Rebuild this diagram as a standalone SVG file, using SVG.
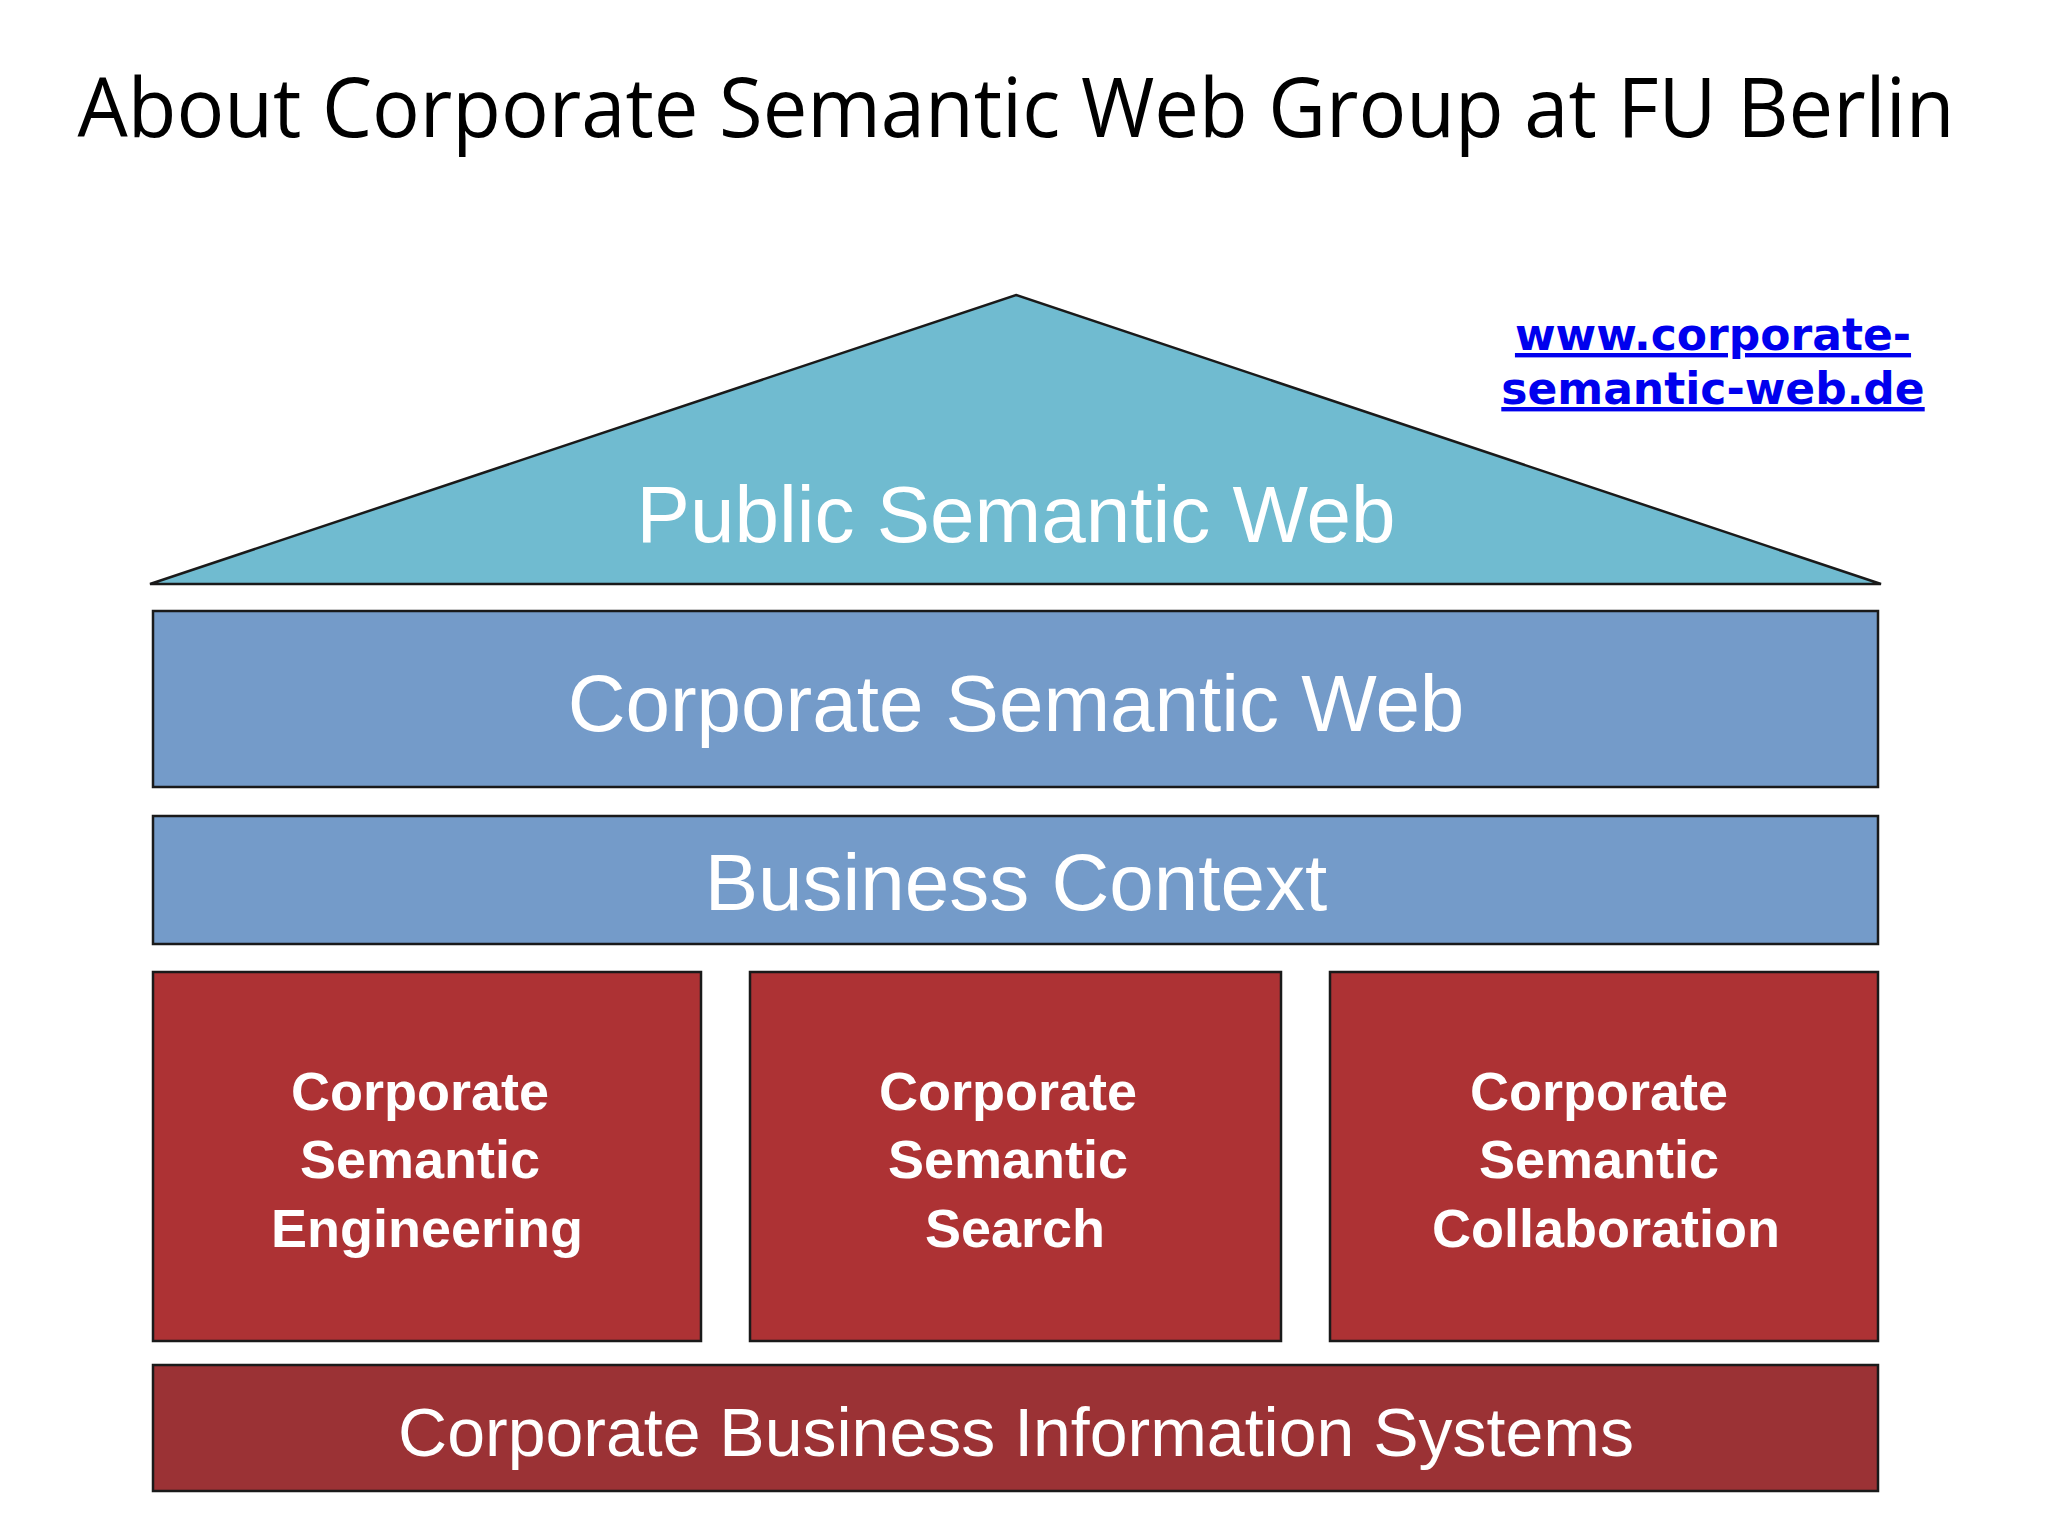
<svg xmlns="http://www.w3.org/2000/svg" width="2048" height="1536" viewBox="0 0 2048 1536">
<style>
.s{stroke:#1a1a1a;stroke-width:2.5}
.w{fill:#fff;font-family:"Liberation Sans",Arial,sans-serif;text-anchor:middle}
.b{font-weight:bold;font-size:54px}
</style>
<rect width="2048" height="1536" fill="#fff"/>
<text x="1016" y="137" font-family="Open Sans,sans-serif" font-size="82" text-anchor="middle" textLength="1877" lengthAdjust="spacingAndGlyphs">About Corporate Semantic Web Group at FU Berlin</text>
<g id="url" font-family="DejaVu Sans,sans-serif" font-weight="bold" font-size="44" fill="#0000ee" text-anchor="middle" text-decoration="underline">
<text x="1713" y="350">www.corporate-</text>
<text x="1713" y="404">semantic-web.de</text>
</g>
<g id="roof"><polygon class="s" points="1016,295 1881,584 150,584" fill="#70BBD0"/><text class="w" x="1016" y="542" font-size="80">Public Semantic Web</text></g>
<g id="csw"><rect class="s" x="153" y="611" width="1725" height="176" fill="#749BC9"/><text class="w" x="1016" y="731" font-size="80">Corporate Semantic Web</text></g>
<g id="bc"><rect class="s" x="153" y="816" width="1725" height="128" fill="#749BC9"/><text class="w" x="1016" y="910" font-size="80">Business Context</text></g>
<g id="eng"><rect class="s" x="153" y="972" width="548" height="369" fill="#AD3234"/><text class="w b" x="420" y="1110">Corporate</text><text class="w b" x="420" y="1178">Semantic</text><text class="w b" x="427" y="1247">Engineering</text></g>
<g id="search"><rect class="s" x="750" y="972" width="531" height="369" fill="#AD3234"/><text class="w b" x="1008" y="1110">Corporate</text><text class="w b" x="1008" y="1178">Semantic</text><text class="w b" x="1015" y="1247">Search</text></g>
<g id="collab"><rect class="s" x="1330" y="972" width="548" height="369" fill="#AD3234"/><text class="w b" x="1599" y="1110">Corporate</text><text class="w b" x="1599" y="1178">Semantic</text><text class="w b" x="1606" y="1247">Collaboration</text></g>
<g id="cbis"><rect class="s" x="153" y="1365" width="1725" height="126" fill="#9B3235"/><text class="w" x="1016" y="1456" font-size="68">Corporate Business Information Systems</text></g>
<g id="connectors"/>
</svg>
